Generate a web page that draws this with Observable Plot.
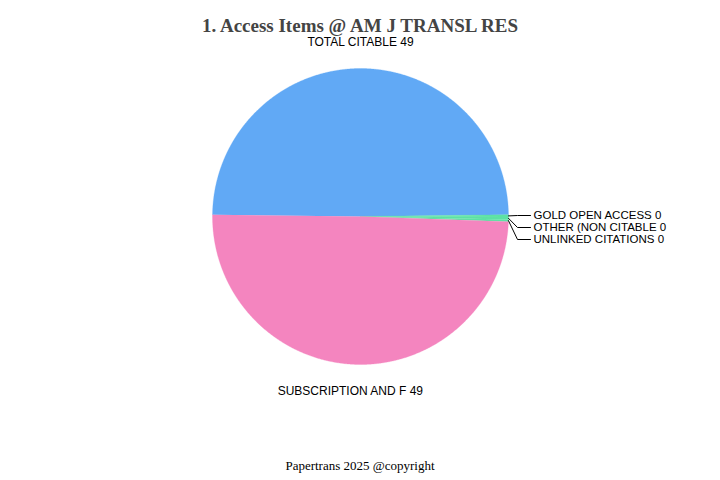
<!DOCTYPE html>
<html>
<head>
<meta charset="utf-8">
<script src="https://cdn.jsdelivr.net/npm/d3@7"></script>
<script src="https://cdn.jsdelivr.net/npm/@observablehq/plot@0.6"></script>
<style>
  html, body { margin: 0; padding: 0; background: #fff; }
  #wrap { position: relative; width: 720px; height: 480px; }
  #title { position: absolute; left: 0; top: 14px; width: 720px; text-align: center;
    font: bold 19px "Liberation Serif", "Times New Roman", serif; color: #444; line-height: 24px; }
  #caption { position: absolute; left: 0; top: 457px; width: 720px; text-align: center;
    font: 13px "Liberation Serif", "Times New Roman", serif; color: #000; line-height: 18px; }
  #chart svg { display: block; }
</style>
</head>
<body>
<div id="wrap">
  <div id="chart"></div>
  <div id="title">1. Access Items @ AM J TRANSL RES</div>
  <div id="caption">Papertrans 2025 @copyright</div>
</div>
<script>
// ---- data ----
const categories = ["TOTAL CITABLE", "GOLD OPEN ACCESS", "OTHER (NON CITABLE", "UNLINKED CITATIONS", "SUBSCRIPTION AND F"];
const values = [49, 0.25, 0.25, 0.25, 49];
const colors = ["#61a9f5", "#5de2a4", "#5de2a4", "#5de2a4", "#f485bf"];

// ---- layout ----
const W = 720, H = 480, R = 148, cx = 360, cy = 216;
const total = d3.sum(values);
const start = -Math.PI * values[0] / total;
const arcs = d3.pie().sort(null).startAngle(start).endAngle(start + 2 * Math.PI)(values);

// slice polygons
const slicePts = [];
arcs.forEach((a, i) => {
  slicePts.push({cat: categories[i], x: 0, y: 0});
  const n = Math.max(2, Math.ceil((a.endAngle - a.startAngle) / 0.005));
  for (let k = 0; k <= n; k++) {
    const t = a.startAngle + (a.endAngle - a.startAngle) * k / n;
    slicePts.push({cat: categories[i], x: Math.sin(t), y: Math.cos(t)});
  }
});

// labels
const inside = [], outside = [], leaders = [];
let small = 0;
arcs.forEach((a, i) => {
  const mid = (a.startAngle + a.endAngle) / 2;
  const label = `${categories[i]} ${Math.round(values[i])}`;
  if (a.endAngle - a.startAngle > 0.2) {
    inside.push({x: 1.18 * Math.sin(mid), y: 1.18 * Math.cos(mid), label, dx: Math.cos(mid) < 0 ? -6 : 0});
  } else {
    const ly = (1 - 12 * small) / R;
    outside.push({x: 1 + 25 / R, y: ly, label});
    leaders.push({cat: label, x: Math.sin(mid), y: Math.cos(mid)});
    leaders.push({cat: label, x: 1 + 9 / R, y: ly});
    leaders.push({cat: label, x: 1 + 22 / R, y: ly});
    small++;
  }
});

const chart = Plot.plot({
  width: W, height: H,
  margin: 0,
  x: {domain: [-cx / R, (W - cx) / R], axis: null},
  y: {domain: [-(H - cy) / R, cy / R], axis: null},
  color: {domain: categories, range: colors},
  style: {fontFamily: "'Liberation Sans', Arial, sans-serif", background: "#fff"},
  marks: [
    Plot.line(slicePts, {x: "x", y: "y", z: "cat", fill: "cat", stroke: "cat", strokeWidth: 0.3, curve: "linear"}),
    Plot.line(leaders, {x: "x", y: "y", z: "cat", stroke: "#000", strokeWidth: 1}),
    Plot.text(inside.filter(d => d.dx === 0), {x: "x", y: "y", text: "label", fontSize: 12, fill: "#000", textAnchor: "middle"}),
    Plot.text(inside.filter(d => d.dx !== 0), {x: "x", y: "y", text: "label", fontSize: 12, fill: "#000", textAnchor: "middle", dx: -6}),
    Plot.text(outside, {x: "x", y: "y", text: "label", fontSize: 11.5, fill: "#000", textAnchor: "start"})
  ]
});
document.getElementById("chart").appendChild(chart);
</script>
</body>
</html>
